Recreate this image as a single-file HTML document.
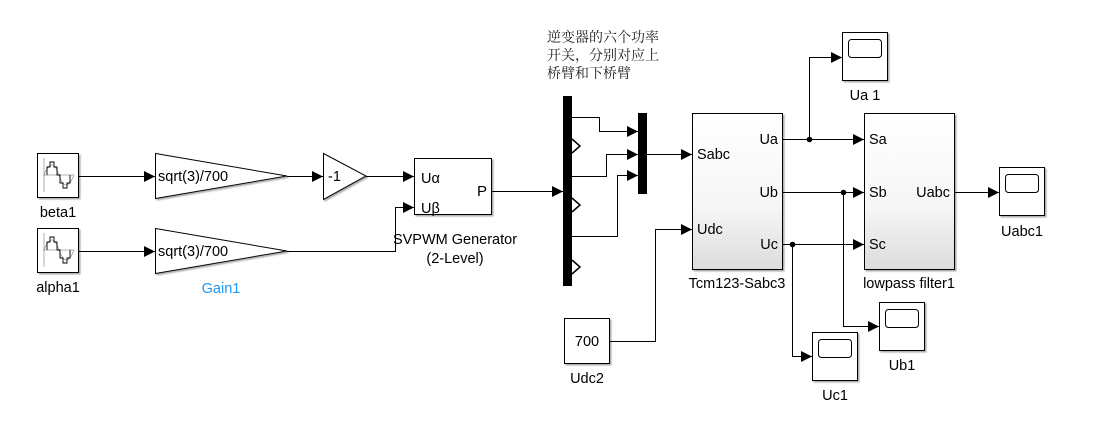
<!DOCTYPE html>
<html><head><meta charset="utf-8"><style>
html,body{margin:0;padding:0;background:#fff;}
svg{display:block;}
text{font-family:"Liberation Sans",Arial,sans-serif;font-size:14.5px;fill:#000;}
.cjk{font-family:"Liberation Serif","Noto Serif CJK SC",serif;font-size:14px;fill:#222;}
</style></head><body>
<svg width="1099" height="431" viewBox="0 0 1099 431" xmlns="http://www.w3.org/2000/svg">
<defs>
<marker id="a" viewBox="0 0 10 10" refX="10" refY="5" markerWidth="11" markerHeight="11" markerUnits="userSpaceOnUse" orient="auto"><path d="M0,0 L10,5 L0,10 z" fill="#000"/></marker>
<linearGradient id="g" x1="0" y1="0" x2="0" y2="1"><stop offset="0" stop-color="#fff"/><stop offset="0.6" stop-color="#f6f6f6"/><stop offset="1" stop-color="#dcdcdc"/></linearGradient>
<filter id="s" x="-10%" y="-10%" width="130%" height="130%"><feDropShadow dx="1.5" dy="1.5" stdDeviation="0.8" flood-color="#888" flood-opacity="0.7"/></filter>
</defs>
<g fill="none" stroke="#000" stroke-width="1">
<g filter="url(#s)" fill="#fff">
<rect x="37.5" y="153.5" width="41" height="44"/>
<rect x="37.5" y="228.5" width="41" height="44"/>
<polygon points="155.5,153.5 287,176 155.5,198.5"/>
<polygon points="155.5,228.5 287,251 155.5,273.5"/>
<polygon points="323.5,153.5 366,176 323.5,199.5"/>
<rect x="414.5" y="158.5" width="77" height="56"/>
<rect x="564.5" y="318.5" width="45" height="45"/>
<rect x="692.5" y="113.5" width="90" height="156" fill="url(#g)"/>
<rect x="864.5" y="113.5" width="90" height="156" fill="url(#g)"/>
<rect x="842.5" y="32.5" width="45" height="48"/>
<rect x="999.5" y="167.5" width="45" height="48"/>
<rect x="879.5" y="302.5" width="45" height="48"/>
<rect x="812.5" y="332.5" width="45" height="48"/>
</g>
<g stroke="#999" stroke-width="0.8">
<line x1="43" y1="175" x2="74" y2="175"/><line x1="44" y1="158" x2="44" y2="192"/>
<line x1="43" y1="250" x2="74" y2="250"/><line x1="44" y1="233" x2="44" y2="267"/>
<path d="M44,175 Q52,155 59,175 T74,175"/>
<path d="M44,250 Q52,230 59,250 T74,250"/>
</g>
<g stroke="#000" stroke-width="0.9">
<path d="M47,175 V167 H50 V162 H54 V167 H57 V175 H60 V183 H63 V188 H67 V183 H70 V175"/>
<path d="M47,250 V242 H50 V237 H54 V242 H57 V250 H60 V258 H63 V263 H67 V258 H70 V250"/>
</g>
<rect x="848.5" y="39.5" width="33" height="18" rx="3"/>
<rect x="1005.5" y="174.5" width="33" height="18" rx="3"/>
<rect x="885.5" y="309.5" width="33" height="18" rx="3"/>
<rect x="818.5" y="339.5" width="33" height="18" rx="3"/>
<line x1="79" y1="176.5" x2="155" y2="176.5" marker-end="url(#a)"/>
<line x1="79" y1="251.5" x2="155" y2="251.5" marker-end="url(#a)"/>
<line x1="287" y1="176.5" x2="323" y2="176.5" marker-end="url(#a)"/>
<line x1="366" y1="176.5" x2="414" y2="176.5" marker-end="url(#a)"/>
<polyline points="287,251.5 395.5,251.5 395.5,207.5 414,207.5" marker-end="url(#a)"/>
<line x1="491" y1="191.5" x2="563" y2="191.5" marker-end="url(#a)"/>
<polyline points="572,117.5 599.5,117.5 599.5,131.5 638,131.5" marker-end="url(#a)"/>
<polyline points="572,176.5 606.5,176.5 606.5,154.5 638,154.5" marker-end="url(#a)"/>
<polyline points="572,236.5 617.5,236.5 617.5,175.5 638,175.5" marker-end="url(#a)"/>
<line x1="647" y1="154.5" x2="692" y2="154.5" marker-end="url(#a)"/>
<polyline points="610,341.5 655.5,341.5 655.5,229.5 692,229.5" marker-end="url(#a)"/>
<line x1="783" y1="139.5" x2="864" y2="139.5" marker-end="url(#a)"/>
<polyline points="809.5,139.5 809.5,57.5 842,57.5" marker-end="url(#a)"/>
<line x1="783" y1="192.5" x2="864" y2="192.5" marker-end="url(#a)"/>
<polyline points="843.5,192.5 843.5,326.5 879,326.5" marker-end="url(#a)"/>
<line x1="783" y1="244.5" x2="864" y2="244.5" marker-end="url(#a)"/>
<polyline points="792.5,244.5 792.5,356.5 812,356.5" marker-end="url(#a)"/>
<line x1="955" y1="192.5" x2="999" y2="192.5" marker-end="url(#a)"/>
<polyline points="572,139 580,146 572,153" stroke-width="1.5"/>
<polyline points="572,198 580,205 572,212" stroke-width="1.5"/>
<polyline points="572,260 580,267 572,274" stroke-width="1.5"/>
</g>
<rect x="563" y="96" width="9" height="190" fill="#000"/>
<rect x="638" y="113" width="9" height="81" fill="#000"/>
<circle cx="809.5" cy="139.5" r="2.8" fill="#000"/>
<circle cx="843.5" cy="192.5" r="2.8" fill="#000"/>
<circle cx="792.5" cy="244.5" r="2.8" fill="#000"/>
<text x="58" y="217" text-anchor="middle">beta1</text>
<text x="58" y="292" text-anchor="middle">alpha1</text>
<text x="158" y="181">sqrt(3)/700</text>
<text x="158" y="256">sqrt(3)/700</text>
<text x="221" y="293" text-anchor="middle" style="fill:#2196f3">Gain1</text>
<text x="328" y="181">-1</text>
<text x="421" y="183">Uα</text>
<text x="421" y="213">Uβ</text>
<text x="487" y="196" text-anchor="end" style="font-size:15px">P</text>
<text x="455" y="244" text-anchor="middle">SVPWM Generator</text>
<text x="455" y="263" text-anchor="middle">(2-Level)</text>
<text class="cjk" x="547" y="42">逆变器的六个功率</text>
<text class="cjk" x="547" y="60">开关，分别对应上</text>
<text class="cjk" x="547" y="78">桥臂和下桥臂</text>
<text x="587" y="346" text-anchor="middle">700</text>
<text x="587" y="383" text-anchor="middle">Udc2</text>
<text x="697" y="159">Sabc</text>
<text x="697" y="234">Udc</text>
<text x="778" y="144" text-anchor="end">Ua</text>
<text x="778" y="197" text-anchor="end">Ub</text>
<text x="778" y="249" text-anchor="end">Uc</text>
<text x="737" y="288" text-anchor="middle">Tcm123-Sabc3</text>
<text x="869" y="144">Sa</text>
<text x="869" y="197">Sb</text>
<text x="869" y="249">Sc</text>
<text x="950" y="197" text-anchor="end">Uabc</text>
<text x="909" y="288" text-anchor="middle">lowpass filter1</text>
<text x="865" y="100" text-anchor="middle">Ua 1</text>
<text x="1022" y="236" text-anchor="middle">Uabc1</text>
<text x="902" y="370" text-anchor="middle">Ub1</text>
<text x="835" y="400" text-anchor="middle">Uc1</text>
</svg>
</body></html>
